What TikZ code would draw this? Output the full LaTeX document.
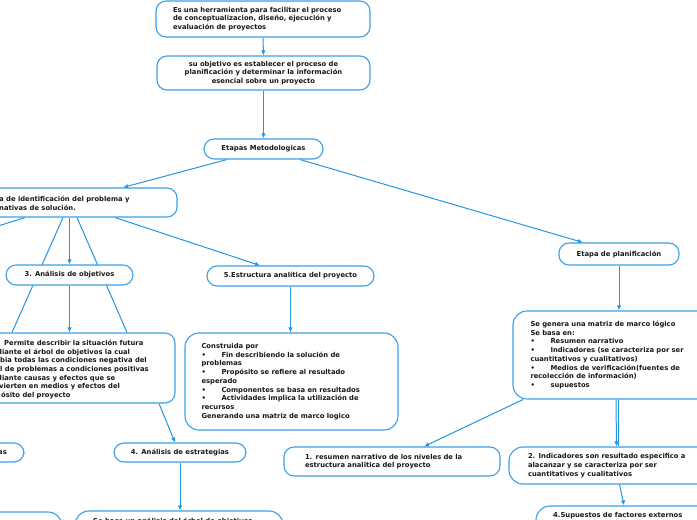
\documentclass[tikz,border=0pt]{standalone}
\usepackage{fontspec}
\setmainfont{DejaVu Sans}
\usetikzlibrary{arrows.meta,calc}
\definecolor{bcol}{RGB}{58,160,232}
\definecolor{acol}{RGB}{34,150,224}
\definecolor{tcol}{RGB}{25,25,25}
\pgfdeclarelayer{bg}
\pgfsetlayers{bg,main}
\newcommand\mybul{\makebox[20pt][l]{•}}
\begin{document}
\begin{tikzpicture}[x=1pt,y=-1pt,
  box/.style={draw=bcol, fill=white, line width=1.1pt, rounded corners=10pt, inner sep=0pt},
  bigbox/.style={box, rounded corners=14pt},
  txt/.style={font=\fontsize{6.8}{8.7}\selectfont\bfseries, text=tcol, inner sep=0pt, align=left},
  ctxt/.style={txt, align=center},
  arr/.style={draw=acol, line width=1pt, -{Latex[length=5pt,width=4.5pt]}},
  ln/.style={draw=acol, line width=1pt}]
\useasboundingbox (0,0) rectangle (697,520);
\clip (0,0) rectangle (697,520);

% nodes
\node[box, txt, text width=180pt, minimum width=214pt, minimum height=36pt] (n1) at (263,19)
  {Es una herramienta para facilitar el proceso\\de conceptualizacion, diseño, ejecución y\\evaluación de proyectos};
\node[box, ctxt, text width=196pt, minimum width=213pt, minimum height=34pt] (n2) at (263.5,73)
  {su objetivo es establecer el proceso de\\planificación y determinar la información\\esencial sobre un proyecto};
\node[box, ctxt, minimum width=119pt, minimum height=20pt] (etapas) at (263.5,149) {Etapas Metodologicas};

\node[box, minimum width=237pt, minimum height=29pt] (ident) at (58.5,202.5) {};
\node[txt, anchor=west] (identt) at (-1,203) {a de identificación del problema y\\nativas de solución.};

\node[box, ctxt, minimum width=127pt, minimum height=20pt] (obj3) at (69.5,275) {3. Análisis de objetivos};

\node[box, minimum width=235pt, minimum height=70pt] (perm) at (57.5,368) {};
\node[txt, anchor=west] (permt) at (-3,369.5)
  {\hspace*{7pt}Permite describir la situación futura\\diante el árbol de objetivos la cual\\\hspace*{3pt}bia todas las condiciones negativa del\\\hspace*{3pt}l de problemas a condiciones positivas\\diante causas y efectos que se\\\hspace*{2pt}vierten en medios y efectos del\\\hspace*{4pt}ósito del proyecto};

\node[box, ctxt, minimum width=167pt, minimum height=20pt] (estr5) at (290.5,276) {5.Estructura analítica del proyecto};

\node[bigbox, txt, text width=180pt, minimum width=213pt, minimum height=97pt] (constr) at (291.5,381.5)
  {Construida por\\
   \mybul Fin describiendo la solución de\\
   problemas\\
   \mybul Propósito se refiere al resultado\\
   esperado\\
   \mybul Componentes se basa en resultados\\
   \mybul Actividades implica la utilización de\\
   recursos\\
   Generando una matriz de marco logico};

\node[box, ctxt, minimum width=132pt, minimum height=19pt] (est4) at (180,452.5) {4. Análisis de estrategias};
\node[box, minimum width=124pt, minimum height=19pt] (leftas) at (-38,452.5) {};
\node[txt, anchor=east] (leftast) at (7,452.5) {as};

\node[bigbox, minimum width=208pt, minimum height=58pt] (bot5) at (179,540) {};
\node[txt, anchor=north west] (bot5t) at (93,517.5) {Se hace un análisis del árbol de objetivos};
\node[bigbox, minimum width=162pt, minimum height=56pt] (botleft) at (-19,540) {};

\node[box, ctxt, minimum width=120pt, minimum height=22pt] (plan) at (619,254) {Etapa de planificación};

\node[bigbox, txt, text width=172pt, minimum width=207pt, minimum height=88pt] (segen) at (616.5,355)
  {Se genera una matriz de marco lógico\\
   Se basa en:\\
   \mybul Resumen narrativo\\
   \mybul Indicadores (se caracteriza por ser\\
   cuantitativos y cualitativos)\\
   \mybul Medios de verificación(fuentes de\\
   recolección de información)\\
   \mybul supuestos};

\node[box, txt, text width=174pt, minimum width=216pt, minimum height=29pt] (res1) at (392,461.5)
  {1. resumen narrativo de los niveles de la\\estructura analitica del proyecto};
\node[bigbox, txt, text width=173pt, minimum width=211pt, minimum height=37pt] (ind2) at (614.5,465.5)
  {2. Indicadores son resultado especifico a\\alacanzar y se caracteriza por ser\\cuantitativos y cualitativos};
\node[bigbox, minimum width=208pt, minimum height=58pt] (sup4) at (640,535) {};
\node[txt, anchor=west] (sup4t) at (553,516) {4.Supuestos de factores externos};

\coordinate (offl) at (-50,241);

% connectors
\begin{pgfonlayer}{bg}
\draw[arr] (n1.south) -- (n2.north);
\draw[arr] (n2.south) -- (etapas.north);
\draw[arr] ([xshift=-36.5pt]etapas.south) -- ([xshift=64.5pt]ident.north);
\draw[arr] ([xshift=36.5pt]etapas.south) -- ([xshift=-36pt]plan.north);
\draw[ln] ([xshift=-33.5pt]ident.south) -- (offl);
\draw[arr] ([xshift=11pt]ident.south) -- (obj3.north);
\draw[ln] ([xshift=4.5pt]ident.south) -- ([xshift=-45.5pt]perm.north);
\draw[ln] ([xshift=18.5pt]ident.south) -- ([xshift=69.5pt]perm.north);
\draw[arr] ([xshift=56.5pt]ident.south) -- ([xshift=-30.5pt]estr5.north);
\draw[arr] (obj3.south) -- (obj3.south |- perm.north);
\draw[arr] ([xshift=101.5pt]perm.south) -- ([xshift=-5pt]est4.north);
\draw[arr] (est4.south) -- (est4.south |- bot5.north);
\draw[arr] (estr5.south) -- (estr5.south |- constr.north);
\draw[arr] (plan.south) -- (plan.south |- segen.north);
\draw[arr] ([xshift=-93.5pt]segen.south) -- ([xshift=32pt]res1.north);
\draw[ln] ([xshift=1.5pt]segen.south) -- ([xshift=3.5pt]ind2.north);
\draw[arr] ([xshift=-0.5pt]segen.south) -- ([xshift=2pt]ind2.north);
\draw[arr] ([xshift=5pt]ind2.south) -- ([xshift=-16pt]sup4.north);
\end{pgfonlayer}
\end{tikzpicture}
\end{document}
